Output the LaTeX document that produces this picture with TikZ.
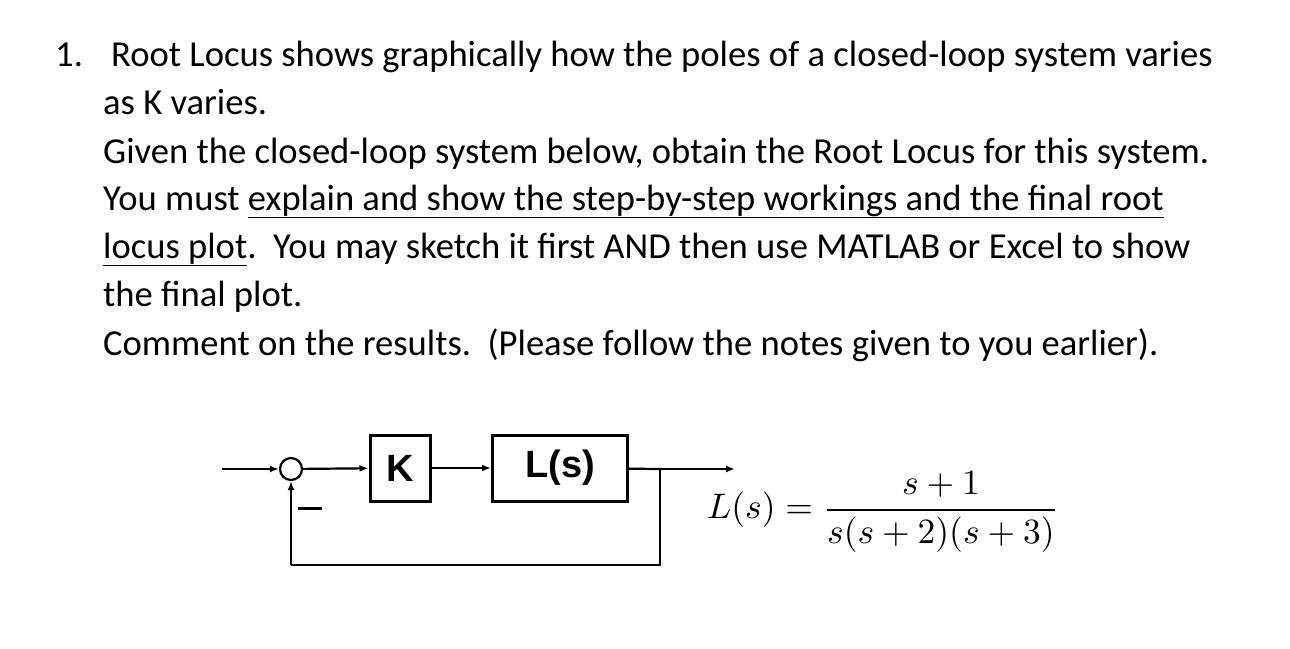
\documentclass[tikz,border=0pt]{standalone}
\usepackage{fontspec}
\setmainfont{Carlito}
\newfontfamily\blk{Liberation Sans}
\usetikzlibrary{arrows.meta}
\begin{document}
\begin{tikzpicture}[x=1pt,y=-1pt,
  txt/.style={anchor=base west,inner sep=0pt,font=\fontsize{36.6}{40}\selectfont},
  blockbox/.style={draw,line width=3pt,minimum height=66pt,inner sep=0pt,font=\blk\bfseries\fontsize{38}{38}\selectfont},
  sig/.style={line width=2.2pt,-{Latex[length=9pt,width=7pt]}},
  wire/.style={line width=2.2pt}]
\useasboundingbox (0,0) rectangle (1290,648);
\node[txt] (n1) at (55,66) {1.};
\node[txt] (l1) at (111,66) {Root Locus shows graphically how the poles of a closed-loop system varies};
\node[txt] (l2) at (103,114) {as K varies.};
\node[txt] (l3) at (103,163) {Given the closed-loop system below, obtain the Root Locus for this system.};
\node[txt] (l4) at (103,210) {You must \underline{explain and show the step-by-step workings and the final root}};
\node[txt] (l5) at (103,258) {\underline{locus plot}.\ \ You may sketch it first AND then use MATLAB or Excel to show};
\node[txt] (l6) at (103,306) {the final plot.};
\node[txt] (l7) at (103,355) {Comment on the results.\ \ (Please follow the notes given to you earlier).};
% block diagram
\coordinate (in) at (222,469);
\node[draw,circle,line width=2.2pt,minimum size=22pt,inner sep=0pt] (sum) at (291,469) {};
\node[blockbox,minimum width=60pt] (K) at (400,468) {K};
\node[blockbox,minimum width=135pt] (L) at (560,468) {L(s)};
\coordinate (br) at (660,469);
\coordinate (out) at (735,469);
\coordinate (bl) at (660,565);
\coordinate (bs) at (291,565);
\draw[sig] (in) -- (sum);
\draw[sig] (sum) -- (K);
\draw[sig] (K) -- (L);
\draw[wire] (L) -- (br);
\draw[sig] (br) -- (out);
\draw[wire] (br) -- (bl) -- (bs);
\draw[sig] (bs) -- (sum);
\draw[line width=3pt] (298,508) -- (322,508);
\node[anchor=west,inner sep=0pt] (eq) at (707,512)
  {\scalebox{3.55}{$\displaystyle L(s)=\frac{s+1}{s(s+2)(s+3)}$}};
\end{tikzpicture}
\end{document}
